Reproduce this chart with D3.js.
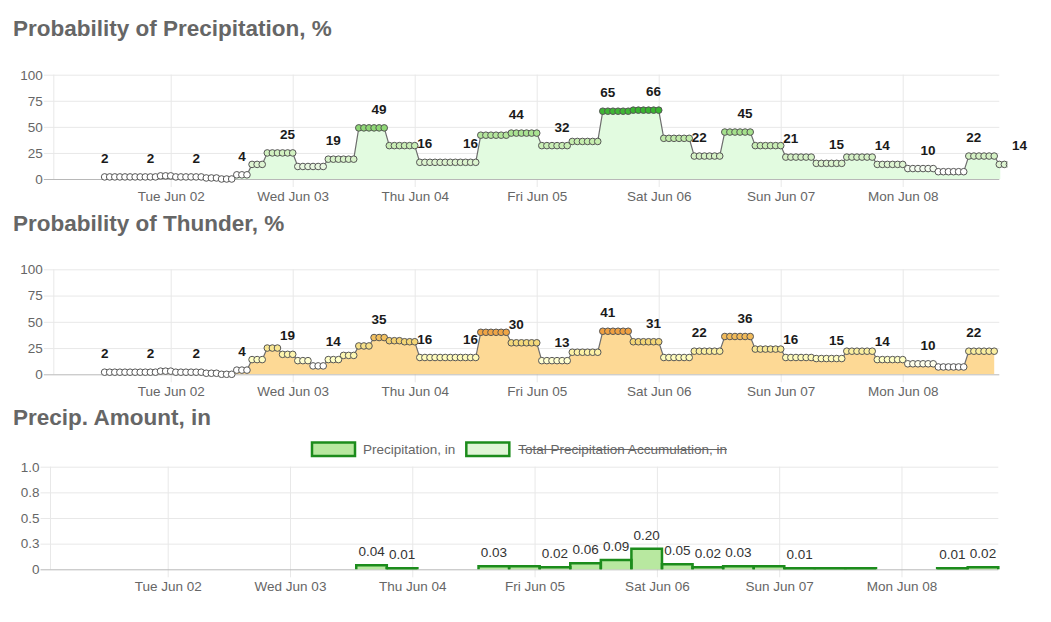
<!DOCTYPE html>
<html lang="en">
<head>
<meta charset="UTF-8">
<script src="https://d3js.org/d3.v7.min.js"></script>
<title>Forecast charts</title>
<style>
  body { margin: 0; background: #fff; font-family: "Liberation Sans", Arial, sans-serif; }
  .title { font-size: 22.5px; font-weight: bold; fill: #666; }
  .tick text { font-size: 13.5px; fill: #666; font-family: "Liberation Sans", Arial, sans-serif; }
  .ptLabel { font-size: 13.5px; font-weight: bold; fill: #1a1a1a; text-anchor: middle; }
  .barLabel { font-size: 13.5px; fill: #333; text-anchor: middle; }
  .legend { font-size: 13.5px; fill: #666; }
</style>
</head>
<body>
<svg id="chart" width="1051" height="622"></svg>
<script>
  // hourly values, first point Jun 1 2020 11:00
  const popStart = new Date(2020, 5, 1, 11);
  const precipPop = [
    2,2,2,2,2,2,2,2,2,2,2,3,3,3,
    2,2,2,2,2,2,1,1,1,0,0,0,
    4,4,4,14,14,14,25,25,25,25,25,25,
    12,12,12,12,12,12,19,19,19,19,19,19,
    49,49,49,49,49,49,32,32,32,32,32,32,
    16,16,16,16,16,16,16,16,16,16,16,16,
    42,42,42,42,42,42,44,44,44,44,44,44,
    32,32,32,32,32,32,36,36,36,36,36,36,
    65,65,65,65,65,65,66,66,66,66,66,66,
    39,39,39,39,39,39,22,22,22,22,22,22,
    45,45,45,45,45,45,32,32,32,32,32,32,
    21,21,21,21,21,21,15,15,15,15,15,15,
    21,21,21,21,21,21,14,14,14,14,14,14,
    10,10,10,10,10,10,7,7,7,7,7,7,
    22,22,22,22,22,22,14,14,14,14,14
  ];
  const thunderPop = [
    2,2,2,2,2,2,2,2,2,2,2,3,3,3,
    2,2,2,2,2,2,1,1,1,0,0,0,
    4,4,4,14,14,14,25,25,25,19,19,19,
    13,13,13,8,8,8,14,14,14,18,18,18,
    27,27,27,35,35,35,32,32,32,31,31,31,
    16,16,16,16,16,16,16,16,16,16,16,16,
    40,40,40,40,40,40,30,30,30,30,30,30,
    13,13,13,13,13,13,21,21,21,21,21,21,
    41,41,41,41,41,41,31,31,31,31,31,31,
    16,16,16,16,16,16,22,22,22,22,22,22,
    36,36,36,36,36,36,24,24,24,24,24,24,
    16,16,16,16,16,16,15,15,15,15,15,15,
    22,22,22,22,22,22,14,14,14,14,14,14,
    10,10,10,10,10,10,7,7,7,7,7,7,
    22,22,22,22,22,22
  ];
  // 6-hour precipitation amounts, first period starts Jun 1 13:00
  const amtStart = new Date(2020, 5, 1, 13);
  const precipAmt = [0,0,0,0,0,0,0,0,
    0.04,0.01,0,0,0.03,0.03,0.02,0.06,0.09,0.20,0.05,0.02,0.03,0.03,
    0.01,0.01,0.01,0,0,0.01,0.02];

  const popTicks = [0, 25, 50, 75, 100];
  const amtTicks = [0, 0.25, 0.5, 0.75, 1];
  const amtTickLabels = ["0", "0.3", "0.5", "0.8", "1.0"];
  const legendNames = ["Precipitation, in", "Total Precipitation Accumulation, in"];

  const xDomain = [new Date(2020, 5, 1, 1), new Date(2020, 5, 8, 19)];
  const svg = d3.select("#chart");
  const gridColor = "#e8e8e8", zeroColor = "#b8b8b8";

  function drawFrame(g, x, y, o, yTicks, yFormat) {
    let xa = g.append("g")
      .attr("transform", `translate(0,${o.bottom + 8})`)
      .call(d3.axisBottom(x).ticks(d3.timeDay).tickFormat(d3.timeFormat("%a %b %d"))
        .tickSize(-(o.bottom - o.top + 8)).tickPadding(4));
    xa.select(".domain").remove();
    xa.selectAll(".tick line").attr("stroke", gridColor);

    g.append("line")
      .attr("x1", o.left).attr("x2", o.left)
      .attr("y1", o.top).attr("y2", o.bottom)
      .attr("stroke", gridColor);

    let ya = g.append("g")
      .attr("transform", `translate(${o.left - 10},0)`)
      .call(d3.axisLeft(y).tickValues(yTicks).tickFormat(yFormat)
        .tickSize(-(o.right - o.left + 10)).tickPadding(1));
    ya.select(".domain").remove();
    ya.selectAll(".tick line").attr("stroke", d => d === 0 ? zeroColor : gridColor);
  }

  function drawPop(o) {
    let x = d3.scaleTime().domain(xDomain).range([o.left, o.right]);
    let y = d3.scaleLinear().domain([0, 100]).range([o.bottom, o.top]);
    let data = o.values.map((v, i) => ({ t: d3.timeHour.offset(popStart, i), v: v }));
    let g = svg.append("g");

    g.append("text").attr("class", "title").attr("x", 13).attr("y", o.titleY).text(o.title);
    drawFrame(g, x, y, o, popTicks, d3.format("d"));

    // area stays inside the plot, line and points may overflow a little
    g.append("clipPath").attr("id", o.id + "A")
      .append("rect")
      .attr("x", o.left).attr("y", o.top - 8)
      .attr("width", o.right + 1 - o.left).attr("height", o.bottom - o.top + 8);
    g.append("clipPath").attr("id", o.id + "P")
      .append("rect")
      .attr("x", o.left - 4).attr("y", o.top - 8)
      .attr("width", o.right + 8 - (o.left - 4)).attr("height", o.bottom - o.top + 12);

    g.append("path").datum(data)
      .attr("clip-path", `url(#${o.id}A)`)
      .attr("fill", o.fill)
      .attr("d", d3.area().x(d => x(d.t)).y0(y(0)).y1(d => y(d.v)));
    let plot = g.append("g").attr("clip-path", `url(#${o.id}P)`);
    plot.append("path").datum(data)
      .attr("fill", "none").attr("stroke", "#6e6e6e").attr("stroke-width", 1.2)
      .attr("d", d3.line().x(d => x(d.t)).y(d => y(d.v)));
    plot.selectAll("circle").data(data).join("circle")
      .attr("cx", d => x(d.t)).attr("cy", d => y(d.v)).attr("r", 3.3)
      .attr("fill", d => o.color(d.v)).attr("stroke", "#555").attr("stroke-width", 1);

    g.selectAll(".ptLabel").data(data.filter((d, i) => i % 9 === 0)).join("text")
      .attr("class", "ptLabel")
      .attr("x", d => x(d.t)).attr("y", d => y(d.v) - 14)
      .text(d => d.v);
  }

  drawPop({
    id: "clipPrecip", title: "Probability of Precipitation, %", titleY: 36,
    top: 74.7, bottom: 179, left: 53.8, right: 999.3,
    values: precipPop, fill: "#e2fbe0",
    color: d3.scaleLinear().domain([0, 8, 14, 40, 50, 66])
      .range(["#fff", "#fff", "#def5d2", "#c0eba8", "#8ad670", "#38b52f"]).clamp(true)
  });

  drawPop({
    id: "clipThunder", title: "Probability of Thunder, %", titleY: 231,
    top: 269.3, bottom: 374.3, left: 53.8, right: 999.3,
    values: thunderPop, fill: "#fdd995",
    color: d3.scaleLinear().domain([0, 8, 14, 22, 31, 41])
      .range(["#fff", "#fff", "#ffffc6", "#fbefa0", "#f4d676", "#f0a040"]).clamp(true)
  });

  // precip amount bars
  (function () {
    let o = { top: 466.7, bottom: 569.3, left: 50.5, right: 998.3 };
    let x = d3.scaleTime().domain(xDomain).range([o.left, o.right]);
    let y = d3.scaleLinear().domain([0, 1]).range([o.bottom, o.top]);
    let g = svg.append("g");
    g.append("text").attr("class", "title").attr("x", 13).attr("y", 425).text("Precip. Amount, in");
    drawFrame(g, x, y, o, amtTicks, (d, i) => amtTickLabels[i]);

    let bars = precipAmt.map((v, i) => ({
      t0: d3.timeHour.offset(amtStart, 6 * i),
      t1: d3.timeHour.offset(amtStart, 6 * i + 6),
      v: v, prev: i > 0 ? precipAmt[i - 1] : 0
    }));
    let shown = bars.filter(d => d.v > 0);
    g.selectAll(".barFill").data(shown).join("rect")
      .attr("x", d => x(d.t0)).attr("width", d => x(d.t1) - x(d.t0))
      .attr("y", d => y(d.v)).attr("height", d => y(0) - y(d.v))
      .attr("fill", "#b8e8a0");
    g.selectAll(".barEdge").data(shown).join("path")
      .attr("fill", "none").attr("stroke", "#1c8c1c").attr("stroke-width", 2.5)
      .attr("d", d => `M${x(d.t0)},${y(0)}V${y(d.v)}H${x(d.t1)}V${y(0)}`);
    g.selectAll(".barLabel").data(shown.filter(d => d.v !== d.prev)).join("text")
      .attr("class", "barLabel")
      .attr("x", d => (x(d.t0) + x(d.t1)) / 2).attr("y", d => y(d.v) - 9)
      .text(d => d.v.toFixed(2));

    // legend
    let lg = g.append("g");
    lg.append("rect").attr("x", 312).attr("y", 442.5).attr("width", 43).attr("height", 13.5)
      .attr("fill", "#b8e8a0").attr("stroke", "#1c8c1c").attr("stroke-width", 2.5);
    let t1 = lg.append("text").attr("class", "legend").attr("x", 363).attr("y", 454).text(legendNames[0]);
    let bx = 363 + t1.node().getComputedTextLength() + 11;
    lg.append("rect").attr("x", bx).attr("y", 442.5).attr("width", 43).attr("height", 13.5)
      .attr("fill", "#e0f5d6").attr("stroke", "#1c8c1c").attr("stroke-width", 2.5);
    let t2 = lg.append("text").attr("class", "legend").attr("x", bx + 52).attr("y", 454).text(legendNames[1]);
    let w2 = t2.node().getComputedTextLength();
    lg.append("line").attr("x1", bx + 52).attr("x2", bx + 52 + w2)
      .attr("y1", 449.5).attr("y2", 449.5).attr("stroke", "#666").attr("stroke-width", 1);
  })();
</script>
</body>
</html>
